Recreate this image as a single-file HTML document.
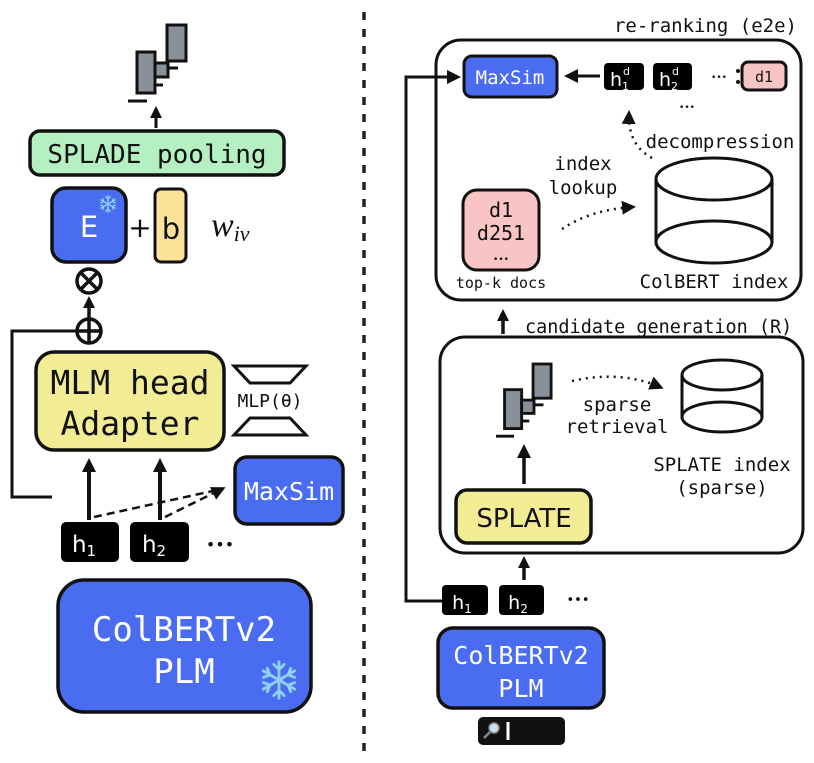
<!DOCTYPE html>
<html><head><meta charset="utf-8"><style>
html,body{margin:0;padding:0;background:#fff;}
svg{display:block;}
.m{font-family:"DejaVu Sans Mono","Liberation Mono",monospace;}
.s{font-family:"DejaVu Sans","Liberation Sans",sans-serif;}
</style></head><body>
<svg width="814" height="763" viewBox="0 0 814 763" xmlns="http://www.w3.org/2000/svg">
<defs>
<marker id="ah" markerWidth="12" markerHeight="12" refX="8" refY="6" orient="auto" markerUnits="userSpaceOnUse"><path d="M0,0 L12,6 L0,12 z" fill="#111"/></marker>
<marker id="ah2" markerWidth="14" markerHeight="14" refX="10" refY="7" orient="auto" markerUnits="userSpaceOnUse"><path d="M0,0 L14,7 L0,14 z" fill="#111"/></marker>
<g id="spl">
<rect x="9" y="27" width="18" height="41" fill="#8a9099" stroke="#111" stroke-width="3"/>
<rect x="39" y="0" width="19" height="36" fill="#8a9099" stroke="#111" stroke-width="3"/>
<rect x="27" y="38" width="13" height="14" fill="#8a9099" stroke="#111" stroke-width="3"/>
<line x1="40" y1="43" x2="50" y2="43" stroke="#111" stroke-width="3"/>
<line x1="27" y1="60" x2="35" y2="60" stroke="#111" stroke-width="3"/>
<line x1="0" y1="76" x2="19" y2="76" stroke="#111" stroke-width="3"/>
</g>
<g id="snow" stroke="#8fd0f5" stroke-width="2.2" fill="none" stroke-linecap="round">
<line x1="0" y1="-14" x2="0" y2="14"/><line x1="-12" y1="-7" x2="12" y2="7"/><line x1="-12" y1="7" x2="12" y2="-7"/>
<path d="M-4,-12 L0,-8 L4,-12 M-4,12 L0,8 L4,12 M-12,-2 L-7,-4 L-9,-9 M12,2 L7,4 L9,9 M12,-2 L7,-4 L9,-9 M-12,2 L-7,4 L-9,9"/>
</g>
</defs>

<line x1="364" y1="12" x2="364" y2="760" stroke="#222" stroke-width="3.5" stroke-dasharray="8,9"/>

<!-- LEFT -->
<use href="#spl" x="128" y="25"/>
<line x1="156" y1="128" x2="156" y2="110" stroke="#111" stroke-width="3" marker-end="url(#ah)"/>
<rect x="30" y="131" width="254" height="44" rx="10" fill="#b4f0c2" stroke="#111" stroke-width="3.5"/>
<text x="157" y="163" class="m" font-size="26" text-anchor="middle" fill="#111">SPLADE pooling</text>

<rect x="52" y="188" width="74" height="74" rx="14" fill="#4a6cf0" stroke="#111" stroke-width="3.5"/>
<text x="89" y="237" class="s" font-size="29" text-anchor="middle" fill="#fff">E</text>
<use href="#snow" transform="translate(108,204) scale(0.6)"/>
<text x="140" y="237" class="s" font-size="28" text-anchor="middle" fill="#111">+</text>
<rect x="155" y="189" width="31" height="73" rx="6" fill="#fbe49a" stroke="#111" stroke-width="3"/>
<text x="171" y="239" class="s" font-size="29" text-anchor="middle" fill="#111">b</text>
<text x="211" y="236" font-family="Liberation Serif,serif" font-style="italic" font-size="34" fill="#111">w<tspan font-size="22" dy="5">iv</tspan></text>

<circle cx="89" cy="281" r="12" fill="#fff" stroke="#111" stroke-width="3.5"/>
<path d="M81,273 L97,289 M97,273 L81,289" stroke="#111" stroke-width="3.5"/>
<line x1="89" y1="319" x2="89" y2="300" stroke="#111" stroke-width="3.5" marker-end="url(#ah)"/>
<circle cx="89" cy="331" r="12" fill="#fff" stroke="#111" stroke-width="3.5"/>
<path d="M77,331 L101,331 M89,319 L89,343" stroke="#111" stroke-width="3.5"/>
<polyline points="77,331 12,331 12,497 52,497" fill="none" stroke="#111" stroke-width="3"/>

<rect x="36" y="352" width="188" height="98" rx="18" fill="#f2ec94" stroke="#111" stroke-width="3.5"/>
<text x="130" y="394" class="m" font-size="33" text-anchor="middle" fill="#111">MLM head</text>
<text x="130" y="435" class="m" font-size="33" text-anchor="middle" fill="#111">Adapter</text>
<path d="M234,366 L306,366 L290,383 L250,383 Z" fill="#fff" stroke="#111" stroke-width="3"/>
<path d="M250,418 L290,418 L306,435 L234,435 Z" fill="#fff" stroke="#111" stroke-width="3"/>
<text x="270" y="407" class="m" font-size="18" text-anchor="middle" fill="#111">MLP(θ)</text>

<line x1="89" y1="520" x2="89" y2="462" stroke="#111" stroke-width="4" marker-end="url(#ah2)"/>
<line x1="160" y1="520" x2="160" y2="462" stroke="#111" stroke-width="4" marker-end="url(#ah2)"/>
<line x1="94" y1="517" x2="222" y2="489" stroke="#111" stroke-width="2.5" stroke-dasharray="8,5"/>
<line x1="165" y1="517" x2="222" y2="489" stroke="#111" stroke-width="2.5" stroke-dasharray="8,5" marker-end="url(#ah2)"/>
<rect x="235" y="457" width="108" height="67" rx="12" fill="#4a6cf0" stroke="#111" stroke-width="3.5"/>
<text x="289" y="500" class="m" font-size="25" text-anchor="middle" fill="#fff">MaxSim</text>

<rect x="61" y="522" width="58" height="40" rx="5" fill="#000"/>
<text x="84" y="552" class="s" font-size="23" fill="#fff" text-anchor="middle">h<tspan font-size="15" dy="4">1</tspan></text>
<rect x="130" y="522" width="59" height="40" rx="5" fill="#000"/>
<text x="154" y="552" class="s" font-size="23" fill="#fff" text-anchor="middle">h<tspan font-size="15" dy="4">2</tspan></text>
<text x="220" y="550" class="s" font-size="16" fill="#111" text-anchor="middle">•••</text>

<rect x="58" y="580" width="253" height="132" rx="26" fill="#4a6cf0" stroke="#111" stroke-width="3.5"/>
<text x="184" y="641" class="m" font-size="34" text-anchor="middle" fill="#fff">ColBERTv2</text>
<text x="184" y="683" class="m" font-size="34" text-anchor="middle" fill="#fff">PLM</text>
<use href="#snow" transform="translate(279,680) scale(1.3)"/>

<!-- RIGHT -->
<text x="797" y="32" class="m" font-size="19" text-anchor="end" fill="#111">re-ranking (e2e)</text>
<rect x="436" y="40" width="365" height="260" rx="25" fill="none" stroke="#111" stroke-width="3"/>
<polyline points="442,601 406,601 406,77 457,77" fill="none" stroke="#111" stroke-width="3" marker-end="url(#ah2)"/>
<rect x="464" y="56" width="93" height="41" rx="8" fill="#4a6cf0" stroke="#111" stroke-width="3"/>
<text x="510" y="84" class="m" font-size="19" text-anchor="middle" fill="#fff">MaxSim</text>
<line x1="600" y1="76" x2="568" y2="76" stroke="#111" stroke-width="3" marker-end="url(#ah2)"/>
<rect x="604" y="63" width="40" height="27" rx="4" fill="#000"/>
<text x="620" y="86" class="s" font-size="19" fill="#fff" text-anchor="middle">h<tspan font-size="11" dy="4">1</tspan><tspan font-size="11" dx="-6" dy="-15">d</tspan></text>
<rect x="653" y="63" width="39" height="27" rx="4" fill="#000"/>
<text x="669" y="86" class="s" font-size="19" fill="#fff" text-anchor="middle">h<tspan font-size="11" dy="4">2</tspan><tspan font-size="11" dx="-6" dy="-15">d</tspan></text>
<text x="719" y="80" class="s" font-size="9" fill="#111" text-anchor="middle">•••</text>
<circle cx="738" cy="71" r="2" fill="#111"/><circle cx="738" cy="82" r="2" fill="#111"/>
<rect x="742" y="62" width="44" height="28" rx="6" fill="#f9c4c4" stroke="#111" stroke-width="3"/>
<text x="764" y="82" class="m" font-size="15" fill="#111" text-anchor="middle">d1</text>
<text x="687" y="110" class="s" font-size="9" fill="#111" text-anchor="middle">•••</text>
<path d="M652,158 Q628,145 629,114" fill="none" stroke="#111" stroke-width="2.5" stroke-dasharray="2,5" marker-end="url(#ah2)"/>
<text x="720" y="148" class="m" font-size="19" fill="#111" text-anchor="middle">decompression</text>
<text x="583" y="170" class="m" font-size="19" fill="#111" text-anchor="middle">index</text>
<text x="583" y="194" class="m" font-size="19" fill="#111" text-anchor="middle">lookup</text>
<rect x="463" y="190" width="76" height="80" rx="14" fill="#f9c4c4" stroke="#111" stroke-width="3"/>
<text x="501" y="217" class="m" font-size="20" fill="#111" text-anchor="middle">d1</text>
<text x="501" y="240" class="m" font-size="20" fill="#111" text-anchor="middle">d251</text>
<text x="501" y="262" class="s" font-size="9" fill="#111" text-anchor="middle">•••</text>
<text x="501" y="288" class="m" font-size="15" fill="#111" text-anchor="middle">top-k docs</text>
<path d="M562,229 Q590,210 632,207" fill="none" stroke="#111" stroke-width="2.5" stroke-dasharray="2,5" marker-end="url(#ah2)"/>
<path d="M656,179 L656,242 A58,21 0 0 0 772,242 L772,179" fill="#fff" stroke="#111" stroke-width="3"/>
<ellipse cx="714" cy="179" rx="58" ry="21" fill="#fff" stroke="#111" stroke-width="3"/>
<path d="M656,242 A58,21 0 0 1 772,242" fill="none" stroke="#111" stroke-width="3"/>
<text x="714" y="288" class="m" font-size="19" fill="#111" text-anchor="middle">ColBERT index</text>

<line x1="503" y1="334" x2="503" y2="313" stroke="#111" stroke-width="3.5" marker-end="url(#ah)"/>
<text x="525" y="333" class="m" font-size="18.5" fill="#111">candidate generation (R)</text>
<rect x="440" y="337" width="363" height="216" rx="25" fill="none" stroke="#111" stroke-width="3"/>
<use href="#spl" transform="translate(496,364) scale(0.95)"/>
<line x1="524" y1="484" x2="524" y2="448" stroke="#111" stroke-width="3.5" marker-end="url(#ah2)"/>
<path d="M572,381 Q620,370 660,387" fill="none" stroke="#111" stroke-width="2.5" stroke-dasharray="2,5" marker-end="url(#ah2)"/>
<text x="617" y="411" class="m" font-size="19" fill="#111" text-anchor="middle">sparse</text>
<text x="617" y="433" class="m" font-size="19" fill="#111" text-anchor="middle">retrieval</text>
<path d="M682,375 L682,417 A40,15 0 0 0 762,417 L762,375" fill="#fff" stroke="#111" stroke-width="3"/>
<ellipse cx="722" cy="375" rx="40" ry="15" fill="#fff" stroke="#111" stroke-width="3"/>
<path d="M682,417 A40,15 0 0 1 762,417" fill="none" stroke="#111" stroke-width="3"/>
<text x="722" y="471" class="m" font-size="19" fill="#111" text-anchor="middle">SPLATE index</text>
<text x="722" y="494" class="m" font-size="19" fill="#111" text-anchor="middle">(sparse)</text>
<rect x="456" y="490" width="135" height="53" rx="11" fill="#f2ec94" stroke="#111" stroke-width="3.5"/>
<text x="524" y="527" class="s" font-size="26" fill="#111" text-anchor="middle">SPLATE</text>
<line x1="524" y1="580" x2="524" y2="560" stroke="#111" stroke-width="3.5" marker-end="url(#ah)"/>

<rect x="442" y="585" width="46" height="30" rx="4" fill="#000"/>
<text x="462" y="609" class="s" font-size="19" fill="#fff" text-anchor="middle">h<tspan font-size="12" dy="4">1</tspan></text>
<rect x="499" y="585" width="45" height="30" rx="4" fill="#000"/>
<text x="518" y="609" class="s" font-size="19" fill="#fff" text-anchor="middle">h<tspan font-size="12" dy="4">2</tspan></text>
<text x="578" y="604" class="s" font-size="13" fill="#111" text-anchor="middle">•••</text>

<rect x="438" y="628" width="166" height="80" rx="15" fill="#4a6cf0" stroke="#111" stroke-width="3.5"/>
<text x="521" y="664" class="m" font-size="25" fill="#fff" text-anchor="middle">ColBERTv2</text>
<text x="521" y="697" class="m" font-size="25" fill="#fff" text-anchor="middle">PLM</text>
<rect x="478" y="717" width="87" height="28" rx="5" fill="#111"/>
<circle cx="494" cy="728" r="5" fill="#bfe3f7" stroke="#888" stroke-width="1.5"/>
<line x1="490" y1="732" x2="484" y2="738" stroke="#888" stroke-width="2.5"/>
<line x1="508" y1="722" x2="508" y2="740" stroke="#fff" stroke-width="3"/>
</svg>
</body></html>
